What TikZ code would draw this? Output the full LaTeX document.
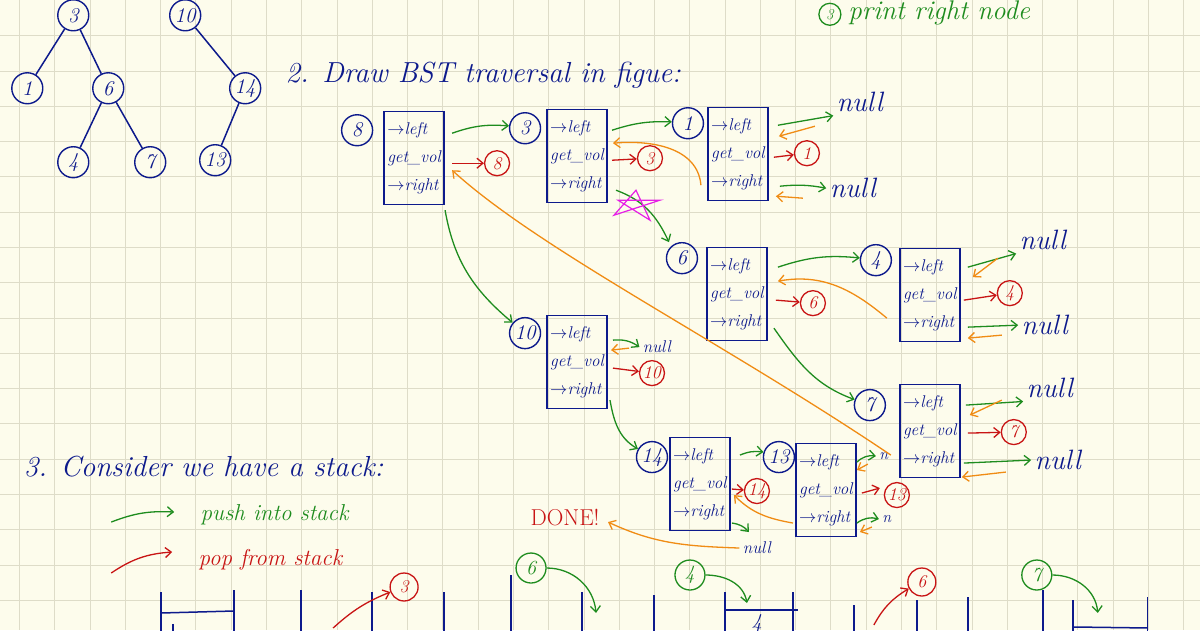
\documentclass[tikz,border=0pt]{standalone}
\usetikzlibrary{arrows.meta}
\definecolor{paper}{HTML}{FDFCEC}
\definecolor{gridc}{HTML}{DEDCC8}
\definecolor{ink}{HTML}{0D1A8C}
\definecolor{gink}{HTML}{1E8C1E}
\definecolor{rink}{HTML}{C81414}
\definecolor{oink}{HTML}{F08C14}
\definecolor{mink}{HTML}{E61EE6}
\newcommand{\boxtxt}{$\rightarrow$left\\get\_vol\\$\rightarrow$right}
\begin{document}
\begin{tikzpicture}[x=1pt,y=-1pt,
  hand/.style={font=\fontsize{#1}{#1}\selectfont\itshape},
  bc/.style={circle,draw=ink,text=ink,line width=1.4pt,minimum size=31pt,inner sep=0pt,hand=21},
  rc/.style={circle,draw=rink,text=rink,line width=1.3pt,minimum size=25pt,inner sep=0pt,hand=18},
  gc/.style={circle,draw=gink,text=gink,line width=1.3pt,minimum size=30pt,inner sep=0pt,hand=20},
  bx/.style={draw=ink,text=ink,line width=1.4pt,minimum width=60pt,minimum height=93pt,inner sep=1pt,align=left,font=\fontsize{17}{28}\selectfont\itshape},
  bl/.style={draw=ink,line width=1.5pt},
  ga/.style={draw=gink,line width=1.3pt,-{Straight Barb[length=6pt,width=10pt]}},
  ra/.style={draw=rink,line width=1.3pt,-{Straight Barb[length=6pt,width=10pt]}},
  oa/.style={draw=oink,line width=1.3pt,-{Straight Barb[length=6pt,width=10pt]}},
  nl/.style={text=ink,hand=#1},
]
\fill[paper] (0,0) rectangle (1200,630);
\foreach \i in {0,...,33} \draw[gridc,line width=0.6pt] ({19+35.3*\i},0) -- ++(0,630);
\foreach \j in {1,...,17} \draw[gridc,line width=0.6pt] (0,{35.3*\j}) -- ++(1200,0);
\useasboundingbox (0,0) rectangle (1200,630);
% trees
\node[bc] (t3) at (73,15) {3};
\node[bc] (t1) at (27,88) {1};
\node[bc] (t6) at (108,88) {6};
\node[bc] (t4) at (73,162) {4};
\node[bc] (t7) at (150,162) {7};
\node[bc] (t10) at (185,15) {10};
\node[bc] (t14) at (245,88) {14};
\node[bc] (t13) at (215,160) {13};
\draw[bl] (t3) -- (t1); \draw[bl] (t3) -- (t6); \draw[bl] (t6) -- (t4); \draw[bl] (t6) -- (t7);
\draw[bl] (t10) -- (t14); \draw[bl] (t14) -- (t13);
\node[text=ink,hand=29,anchor=west] (title) at (282,75) {2. Draw BST traversal in figue:};
\node[gc,minimum size=22pt,hand=15] (pc) at (830,14) {3};
\node[text=gink,hand=27,anchor=west] (ptr) at (845,13) {print right node};
% boxes
\node[bx] (A) at (414,158) {\boxtxt};
\node[bx] (B) at (577,156) {\boxtxt};
\node[bx] (C) at (738,154) {\boxtxt};
\node[bx] (D) at (737,294) {\boxtxt};
\node[bx] (E) at (930,295) {\boxtxt};
\node[bx] (F) at (577,362) {\boxtxt};
\node[bx] (G) at (930,431) {\boxtxt};
\node[bx] (H) at (700,484) {\boxtxt};
\node[bx] (I) at (826,490) {\boxtxt};
% labels circles
\node[bc] (cA) at (357,130) {8};
\node[bc] (cB) at (525,128) {3};
\node[bc] (cC) at (688,123) {1};
\node[bc] (cD) at (682,258) {6};
\node[bc] (cE) at (876,260) {4};
\node[bc] (cF) at (525,333) {10};
\node[bc] (cG) at (870,405) {7};
\node[bc] (cH) at (652,457) {14};
\node[bc] (cI) at (779,457) {13};
\node[rc] (rA) at (497,163) {8};
\node[rc] (rB) at (650,158) {3};
\node[rc] (rC) at (807,153) {1};
\node[rc] (rD) at (813,303) {6};
\node[rc] (rE) at (1010,293) {4};
\node[rc] (rF) at (652,373) {10};
\node[rc] (rG) at (1014,432) {7};
\node[rc] (rH) at (757,491) {14};
\node[rc] (rI) at (897,495) {13};
% nulls
\node[nl=28] (nC1) at (860,102) {null};
\node[nl=28] (nC2) at (853,188) {null};
\node[nl=28] (nE1) at (1043,240) {null};
\node[nl=28] (nE2) at (1045,325) {null};
\node[nl=17] (nF) at (657,347) {null};
\node[nl=28] (nG1) at (1050,388) {null};
\node[nl=28] (nG2) at (1058,460) {null};
\node[nl=17] (nH) at (757,548) {null};
\node[nl=16] (nI1) at (884,456) {n};
\node[nl=16] (nI2) at (887,519) {n};
\node[text=rink,font=\fontsize{23}{23}\selectfont,anchor=west] (done) at (527,517) {DONE!};
% A
\draw[ga] (452,133) to[bend left=12] (cB);
\draw[ra] (452,163) -- (rA);
\draw[ga] (445,210) to[out=-80,in=140] (cF);
% B
\draw[ga] (612,130) to[bend left=10] (cC);
\draw[ra] (612,160) -- (rB);
\draw[oa] (701,185) to[out=95,in=5] (613,143);
\draw[ga] (616,190) to[out=-20,in=115] (669,242);
\draw[mink,line width=1.2pt] (614,215) -- (636,190) -- (650,220) -- (618,200) -- (660,200) -- cycle;
% C
\draw[ga] (778,125) -- (nC1.south west);
\draw[oa] (815,126) -- (779,136);
\draw[ra] (774,157) -- (rC);
\draw[ga] (780,186) to[bend left=8] (nC2.west);
\draw[oa] (803,198) -- (776,196);
% D
\draw[ga] (778,267) to[bend left=12] (cE);
\draw[oa] (887,318) to[out=140,in=10] (778,281);
\draw[ra] (776,300) -- (rD);
\draw[ga] (774,328) to[out=-55,in=160] (cG);
% E
\draw[ga] (968,267) -- (nE1.south west);
\draw[oa] (998,258) -- (973,277);
\draw[ra] (964,300) -- (rE);
\draw[ga] (968,327) -- (nE2.west);
\draw[oa] (1002,335) -- (968,338);
% F
\draw[ga] (613,340) to[bend left=20] (nF.west);
\draw[oa] (629,348) -- (611,350);
\draw[ra] (613,368) -- (rF);
\draw[ga] (610,400) to[out=-80,in=150] (cH);
% G
\draw[ga] (966,405) -- (nG1.south west);
\draw[oa] (1002,400) -- (970,415);
\draw[ra] (968,433) -- (rG);
\draw[ga] (964,463) -- (nG2.west);
\draw[oa] (1006,472) -- (962,477);
\draw[oa] (891,455) .. controls (720,340) and (540,250) .. (452,170);
% H
\draw[ga] (740,455) to[bend left=15] (cI);
\draw[ra] (732,489) -- (rH);
\draw[oa] (793,523) to[out=170,in=-45] (734,495);
\draw[ga] (732,523) to[bend left=20] (749,532);
\draw[oa] (nH.west) to[out=178,in=-25] (608,522);
% I
\draw[ga] (857,462) to[bend left=25] (nI1.west);
\draw[oa] (868,464) -- (857,470);
\draw[ra] (862,493) -- (880,488);
\draw[ga] (857,523) to[bend left=25] (nI2.west);
\draw[oa] (872,527) -- (860,532);
% part 3
\node[text=ink,hand=29,anchor=west] (p3) at (20,467) {3. Consider we have a stack:};
\coordinate (pg1) at (111,522); \coordinate (pg2) at (174,512);
\draw[ga] (pg1) to[bend left=12] (pg2);
\node[text=gink,hand=23,anchor=west] (push) at (197,515) {push into stack};
\coordinate (pr1) at (111,573); \coordinate (pr2) at (172,552);
\draw[ra] (pr1) to[bend left=15] (pr2);
\node[text=rink,hand=23,anchor=west] (pop) at (195,560) {pop from stack};
% stacks
\foreach \x/\t in {161/592,234/590,301/590,372/592,444/592,511/575,582/592,654/595,725/592,793/592,854/605,917/600,968/597,1043/590,1073/600,1148/597}
  \draw[bl] (\x,\t) -- (\x,632);
\draw[bl] (161,613) -- (234,611);
\draw[bl] (173,624) -- (173,632);
\draw[bl] (725,610) -- (798,610);
\node[text=ink,hand=21] (s4) at (757,624) {4};
\draw[bl] (1073,627) -- (1148,628);
\node[rc,minimum size=28pt] (s3) at (404,587) {3};
\draw[ra] (333,628) to[bend left=10] (s3);
\node[gc] (s6) at (531,568) {6};
\draw[ga] (s6.east) to[out=0,in=95] (596,613);
\node[gc] (s4c) at (690,575) {4};
\draw[ga] (s4c.east) to[out=0,in=100] (747,603);
\node[rc,minimum size=28pt] (s6r) at (922,582) {6};
\draw[ra] (874,625) to[bend left=15] (s6r);
\node[gc] (s7) at (1037,575) {7};
\draw[ga] (s7.east) to[out=0,in=95] (1098,613);
\end{tikzpicture}
\end{document}
